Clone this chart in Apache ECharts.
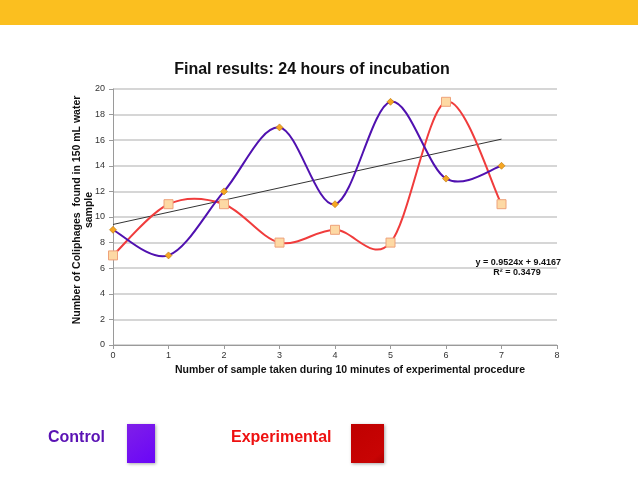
<!DOCTYPE html>
<html>
<head>
<meta charset="utf-8">
<script src="https://cdn.jsdelivr.net/npm/echarts@6/dist/echarts.min.js"></script>
<style>
  html, body { margin: 0; padding: 0; background: #fff; }
  #main { width: 638px; height: 478px; }
</style>
</head>
<body>
<div id="main"></div>
<script>
  // 样本编号（x 轴）
  var samples = [0, 1, 2, 3, 4, 5, 6, 7];
  // 对照组 / 实验组
  var controlValues = [9, 7, 12, 17, 11, 19, 13, 14];
  var experimentalValues = [7, 11, 11, 8, 9, 8, 19, 11];
  // 趋势线（对照组的线性拟合）
  var trendSlope = 0.9524;
  var trendIntercept = 9.4167;
  var trendR2 = 0.3479;
  var xTicks = [0, 1, 2, 3, 4, 5, 6, 7, 8];
  var yTicks = [0, 2, 4, 6, 8, 10, 12, 14, 16, 18, 20];

  var chart = echarts.init(document.getElementById('main'));

  function pairs(vals) {
    return samples.map(function (x, i) { return [x, vals[i]]; });
  }
  var trendData = [samples[0], samples[samples.length - 1]].map(function (x) {
    return [x, trendSlope * x + trendIntercept];
  });

  // Excel 风格平滑线：每段用相邻点算贝塞尔控制点（坐标由 api.coord 换算）
  function smoothSegment(vals, color) {
    var n = samples.length;
    return function (params, api) {
      var i = params.dataIndex;
      if (i >= n - 1) return null;
      function p(k) {
        k = Math.max(0, Math.min(n - 1, k));
        return api.coord([samples[k], vals[k]]);
      }
      var p0 = p(i - 1), p1 = p(i), p2 = p(i + 1), p3 = p(i + 2);
      return {
        type: 'bezierCurve',
        shape: {
          x1: p1[0], y1: p1[1],
          x2: p2[0], y2: p2[1],
          cpx1: p1[0] + (p2[0] - p0[0]) / 6,
          cpy1: p1[1] + (p2[1] - p0[1]) / 6,
          cpx2: p2[0] - (p3[0] - p1[0]) / 6,
          cpy2: p2[1] - (p3[1] - p1[1]) / 6
        },
        style: { stroke: color, lineWidth: 2, fill: null }
      };
    };
  }

  var boldFont = 'Liberation Sans, Arial, sans-serif';

  chart.setOption({
    backgroundColor: '#fff',
    animation: false,
    title: {
      text: 'Final results: 24 hours of incubation',
      left: 307,
      top: 57,
      textAlign: 'center',
      textStyle: { fontFamily: boldFont, fontSize: 16, fontWeight: 'bold', color: '#111' }
    },
    grid: { left: 113, right: 81, top: 89, bottom: 133 },
    xAxis: {
      type: 'value',
      min: xTicks[0],
      max: xTicks[xTicks.length - 1],
      interval: 1,
      name: 'Number of sample taken during 10 minutes of experimental procedure',
      nameLocation: 'middle',
      nameGap: 17,
      nameTextStyle: { fontFamily: boldFont, fontSize: 10.5, fontWeight: 'bold', color: '#111', padding: [0, 0, 0, 30] },
      axisLine: { lineStyle: { color: '#9a9a9a', width: 1 } },
      axisTick: { show: true, length: 4, lineStyle: { color: '#9a9a9a' } },
      axisLabel: { fontFamily: boldFont, fontSize: 9, color: '#333', margin: 6 },
      splitLine: { show: false }
    },
    yAxis: {
      type: 'value',
      min: yTicks[0],
      max: yTicks[yTicks.length - 1],
      interval: 2,
      name: 'Number of Coliphages  found in 150 mL water\nsample',
      nameLocation: 'middle',
      nameGap: 18,
      nameMoveOverlap: false,
      nameRotate: 90,
      nameTextStyle: { fontFamily: boldFont, fontSize: 10.5, fontWeight: 'bold', color: '#111', lineHeight: 12, padding: [0, 0, 0, 14] },
      axisLine: { show: true, lineStyle: { color: '#9a9a9a', width: 1 } },
      axisTick: { show: true, length: 4, lineStyle: { color: '#9a9a9a' } },
      axisLabel: { fontFamily: boldFont, fontSize: 9, color: '#333', margin: 8 },
      splitLine: { show: true, lineStyle: { color: '#c8c8c8', width: 1.5 } }
    },
    series: [
      {
        name: 'Trend',
        type: 'line',
        data: trendData,
        symbol: 'none',
        lineStyle: { color: '#333', width: 1 },
        z: 2
      },
      {
        name: 'Experimental line',
        type: 'custom',
        data: pairs(experimentalValues),
        encode: { x: 0, y: 1 },
        renderItem: smoothSegment(experimentalValues, '#f03c3c'),
        z: 3
      },
      {
        name: 'Control line',
        type: 'custom',
        data: pairs(controlValues),
        encode: { x: 0, y: 1 },
        renderItem: smoothSegment(controlValues, '#5011b0'),
        z: 4
      },
      {
        name: 'Experimental',
        type: 'scatter',
        data: pairs(experimentalValues),
        symbol: 'rect',
        symbolSize: 9,
        itemStyle: { color: '#fdd9a4', borderColor: '#eea27a', borderWidth: 1, opacity: 1 },
        z: 5
      },
      {
        name: 'Control',
        type: 'scatter',
        data: pairs(controlValues),
        symbol: 'diamond',
        symbolSize: 7,
        itemStyle: { color: '#f5a623', borderColor: '#b8720c', borderWidth: 0.6, opacity: 1 },
        z: 6
      }
    ],
    graphic: [
      {
        type: 'rect',
        shape: { x: 0, y: 0, width: 638, height: 25 },
        style: { fill: '#fbbf1f' }
      },
      {
        type: 'text',
        x: 561, y: 258,
        style: {
          text: 'y = ' + trendSlope + 'x + ' + trendIntercept,
          textAlign: 'right',
          fontFamily: boldFont, fontSize: 9, fontWeight: 'bold', fill: '#111'
        }
      },
      {
        type: 'text',
        x: 517, y: 268,
        style: {
          text: 'R² = ' + trendR2,
          textAlign: 'center',
          fontFamily: boldFont, fontSize: 9, fontWeight: 'bold', fill: '#111'
        }
      },
      {
        type: 'text',
        x: 48, y: 430,
        style: { text: 'Control', fontFamily: boldFont, fontSize: 16, fontWeight: 'bold', fill: '#5a12b4' }
      },
      {
        type: 'rect',
        shape: { x: 127, y: 424, width: 28, height: 39 },
        style: {
          fill: new echarts.graphic.LinearGradient(0, 0, 1, 1, [
            { offset: 0, color: '#7f1fe8' },
            { offset: 1, color: '#6a06f8' }
          ]),
          shadowBlur: 3, shadowOffsetX: 1, shadowOffsetY: 1, shadowColor: 'rgba(0,0,0,0.35)'
        }
      },
      {
        type: 'text',
        x: 231, y: 430,
        style: { text: 'Experimental', fontFamily: boldFont, fontSize: 16, fontWeight: 'bold', fill: '#ee1111' }
      },
      {
        type: 'rect',
        shape: { x: 351, y: 424, width: 33, height: 39 },
        style: {
          fill: new echarts.graphic.LinearGradient(0, 0, 1, 1, [
            { offset: 0, color: '#bf0000' },
            { offset: 0.8, color: '#c80404' },
            { offset: 1, color: '#b00000' }
          ]),
          shadowBlur: 3, shadowOffsetX: 1, shadowOffsetY: 1, shadowColor: 'rgba(0,0,0,0.35)'
        }
      }
    ]
  });
</script>
</body>
</html>
